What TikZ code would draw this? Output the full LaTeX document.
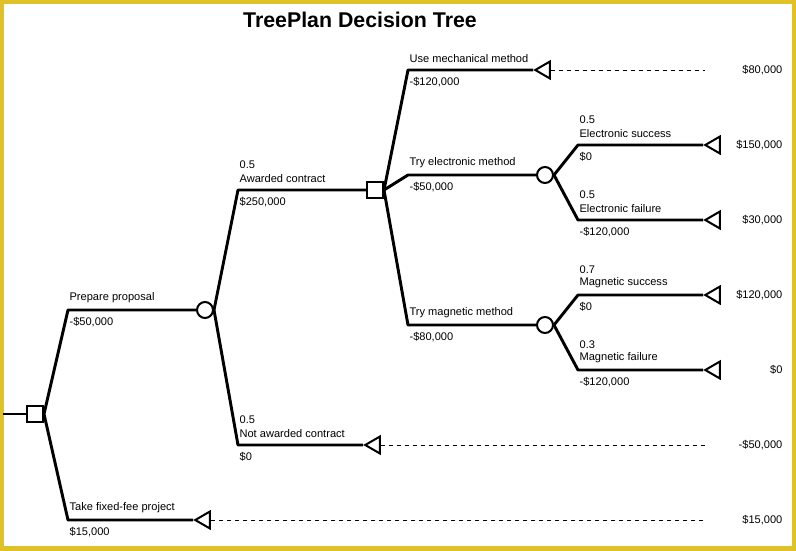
\documentclass[tikz,border=0pt]{standalone}
\usepackage{fontspec}
\setmainfont{Liberation Sans}
\usetikzlibrary{shapes.geometric,positioning}
\definecolor{framegold}{RGB}{222,194,40}
\begin{document}
\begin{tikzpicture}[x=0.75pt,y=-0.75pt,
  every node/.style={font=\fontsize{8.3}{10}\selectfont},
  line/.style={line width=2.2pt,line join=round},
  decision/.style={draw,line width=1.5pt,fill=white,rectangle,minimum size=12pt,inner sep=0pt},
  chance/.style={draw,line width=1.5pt,fill=white,circle,minimum size=12pt,inner sep=0pt},
  terminal/.style={draw,line width=1.5pt,fill=white,isosceles triangle,isosceles triangle apex angle=60,
    shape border rotate=180,minimum height=11pt,inner sep=0pt},
  tail/.style={dashed,line width=0.6pt},
  lbl/.style={anchor=south west,inner sep=1pt},
  val/.style={anchor=north west,inner sep=1pt},
  pay/.style={anchor=east,inner sep=1pt}]
\useasboundingbox (0,0) rectangle (796,550);
\draw[framegold,line width=3.5pt] (1.5,1.5) rectangle (794.5,548.5);
\node[font=\fontsize{16}{19}\selectfont\bfseries] (title) at (360,20) {TreePlan Decision Tree};

% nodes
\node[decision] (root) at (35,414) {};
\node[chance] (prop) at (205,310) {};
\node[terminal] (fixed) at (205,520) {};
\node[decision] (award) at (375,190) {};
\node[terminal] (noaward) at (375,445) {};
\node[terminal] (mech) at (545,70) {};
\node[chance] (elec) at (545,175) {};
\node[chance] (magn) at (545,325) {};
\node[terminal] (esucc) at (715,145) {};
\node[terminal] (efail) at (715,220) {};
\node[terminal] (msucc) at (715,295) {};
\node[terminal] (mfail) at (715,370) {};

% bend points
\coordinate (in) at (3,414);
\coordinate (b1) at (68,310);   \coordinate (b2) at (68,520);
\coordinate (b3) at (238,190);  \coordinate (b4) at (238,445);
\coordinate (b5) at (408,70);   \coordinate (b6) at (408,175);  \coordinate (b7) at (408,325);
\coordinate (b8) at (578,145);  \coordinate (b9) at (578,220);
\coordinate (b10) at (578,295); \coordinate (b11) at (578,370);
\coordinate (tailend) at (705,0);

\draw[line] (in) -- (root.west);
\draw[line] (root.east) -- (b1) -- (prop.west);
\draw[line] (root.east) -- (b2) -- (fixed.west);
\draw[line] (prop.east) -- (b3) -- (award.west);
\draw[line] (prop.east) -- (b4) -- (noaward.west);
\draw[line] (award.east) -- (b5) -- (mech.west);
\draw[line] (award.east) -- (b6) -- (elec.west);
\draw[line] (award.east) -- (b7) -- (magn.west);
\draw[line] (elec.east) -- (b8) -- (esucc.west);
\draw[line] (elec.east) -- (b9) -- (efail.west);
\draw[line] (magn.east) -- (b10) -- (msucc.west);
\draw[line] (magn.east) -- (b11) -- (mfail.west);

% dashed tails
\foreach \t in {fixed,noaward,mech}
  \draw[tail] (\t.east) -- (\t.east -| tailend);

% branch labels
\node[lbl] (l1) at ([yshift=4pt]b1) {Prepare proposal};
\node[val] (v1) at ([yshift=-4pt]b1) {-\$50,000};
\node[lbl] (l2) at ([yshift=4pt]b2) {Take fixed-fee project};
\node[val] (v2) at ([yshift=-4pt]b2) {\$15,000};
\node[lbl] (l3) at ([yshift=4pt]b3) {Awarded contract};
\node[lbl] (p3) at ([yshift=15pt]b3) {0.5};
\node[val] (v3) at ([yshift=-4pt]b3) {\$250,000};
\node[lbl] (l4) at ([yshift=4pt]b4) {Not awarded contract};
\node[lbl] (p4) at ([yshift=15pt]b4) {0.5};
\node[val] (v4) at ([yshift=-4pt]b4) {\$0};
\node[lbl] (l5) at ([yshift=4pt]b5) {Use mechanical method};
\node[val] (v5) at ([yshift=-4pt]b5) {-\$120,000};
\node[lbl] (l6) at ([yshift=4pt]b6) {Try electronic method};
\node[val] (v6) at ([yshift=-4pt]b6) {-\$50,000};
\node[lbl] (l7) at ([yshift=4pt]b7) {Try magnetic method};
\node[val] (v7) at ([yshift=-4pt]b7) {-\$80,000};
\node[lbl] (l8) at ([yshift=4pt]b8) {Electronic success};
\node[lbl] (p8) at ([yshift=15pt]b8) {0.5};
\node[val] (v8) at ([yshift=-4pt]b8) {\$0};
\node[lbl] (l9) at ([yshift=4pt]b9) {Electronic failure};
\node[lbl] (p9) at ([yshift=15pt]b9) {0.5};
\node[val] (v9) at ([yshift=-4pt]b9) {-\$120,000};
\node[lbl] (l10) at ([yshift=4pt]b10) {Magnetic success};
\node[lbl] (p10) at ([yshift=15pt]b10) {0.7};
\node[val] (v10) at ([yshift=-4pt]b10) {\$0};
\node[lbl] (l11) at ([yshift=4pt]b11) {Magnetic failure};
\node[lbl] (p11) at ([yshift=15pt]b11) {0.3};
\node[val] (v11) at ([yshift=-4pt]b11) {-\$120,000};

% payoffs
\node[pay] (r1) at (784,70) {\$80,000};
\node[pay] (r2) at (784,145) {\$150,000};
\node[pay] (r3) at (784,220) {\$30,000};
\node[pay] (r4) at (784,295) {\$120,000};
\node[pay] (r5) at (784,370) {\$0};
\node[pay] (r6) at (784,445) {-\$50,000};
\node[pay] (r7) at (784,520) {\$15,000};
\end{tikzpicture}
\end{document}
